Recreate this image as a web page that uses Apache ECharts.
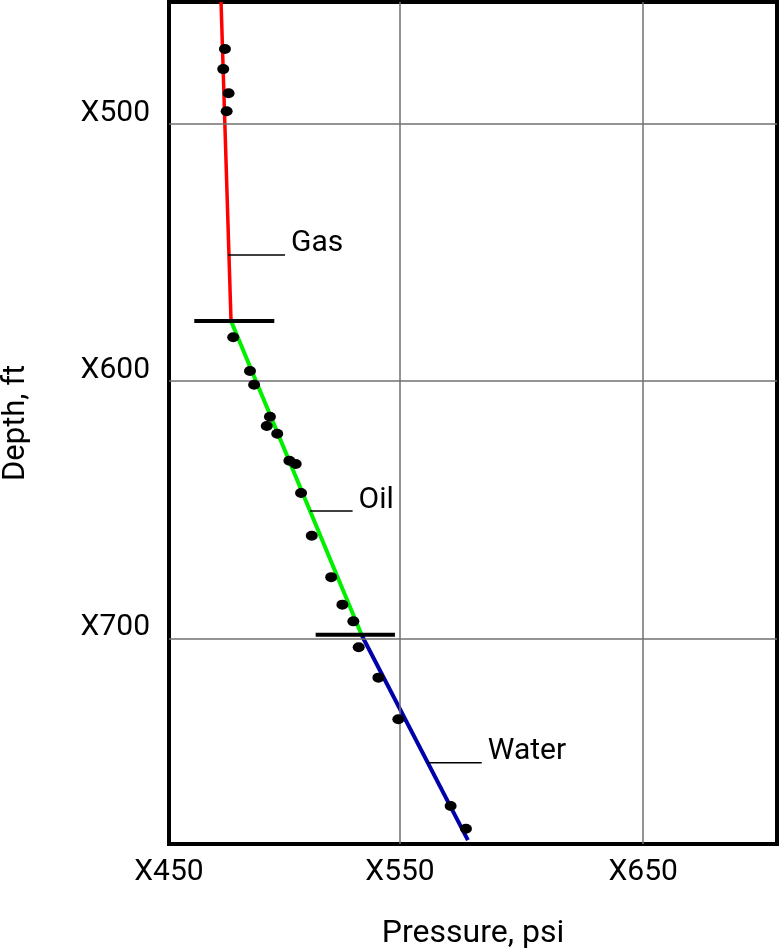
<!DOCTYPE html>
<html>
<head>
<meta charset="utf-8">
<script src="https://cdn.jsdelivr.net/npm/echarts@6/dist/echarts.min.js"></script>
<style>
  html, body { margin: 0; padding: 0; background: #fff; }
  #chart { width: 780px; height: 952px; }
</style>
</head>
<body>
<div id="chart"></div>
<script>
// ---- axis ticks ----
const xTickValues = [455, 550, 650];
const xTickLabels = ['X450', 'X550', 'X650'];
const yTickValues = [500, 600, 700];
const yTickLabels = ['X500', 'X600', 'X700'];

// ---- pressure measurements (psi, depth ft) ----
const gasPressure   = [478.0, 477.3, 479.5, 478.7];
const gasDepth      = [470.8, 478.6, 488.0, 495.0];
const oilPressure   = [481.4, 488.3, 490.0, 496.5, 495.2, 499.5, 504.5, 507.1, 509.3, 513.7, 521.7, 526.3, 530.8];
const oilDepth      = [582.9, 596.0, 601.4, 613.8, 617.4, 620.4, 630.9, 632.2, 643.5, 660.1, 676.2, 686.9, 693.4];
const waterPressure = [533.0, 541.1, 549.3, 570.8, 577.1];
const waterDepth    = [703.5, 715.3, 731.5, 765.2, 774.1];

// ---- fluid gradient lines (pressure, depth endpoints) ----
const gasLinePressure   = [476.4, 480.5];
const gasLineDepth      = [452.5, 576.6];
const oilLinePressure   = [480.5, 534.4];
const oilLineDepth      = [576.6, 699.1];
const waterLinePressure = [534.4, 577.9];
const waterLineDepth    = [699.1, 778.5];

// ---- fluid contacts ----
const contactDepth    = [576.6, 698.6];
const contactPressure = [[465.4, 498.3], [515.3, 547.9]];

// ---- fluid labels with leaders ----
const fluidNames          = ['Gas', 'Oil', 'Water'];
const leaderDepth         = [550.9, 650.5, 748.4];
const leaderPressureStart = [479.3, 513.0, 561.6];
const leaderPressureEnd   = [502.7, 530.5, 583.6];

const zip = (a, b) => a.map((v, i) => [v, b[i]]);

const FONT = 'Roboto';
const series = [];

// grid lines (from tick arrays)
series.push({
  type: 'line', data: [], silent: true, z: 1,
  markLine: {
    silent: true, symbol: 'none', animation: false,
    label: { show: false },
    lineStyle: { color: '#707070', width: 1.5, type: 'solid', opacity: 1 },
    data: xTickValues.slice(1).map(v => ({ xAxis: v }))
      .concat(yTickValues.map(v => ({ yAxis: v })))
  }
});

const lineStyleSeries = (px, dy, color, width) => ({
  type: 'line', data: zip(px, dy), symbol: 'none', z: 3,
  lineStyle: { color: color, width: width, opacity: 1 }, silent: true, animation: false
});
series.push(lineStyleSeries(gasLinePressure, gasLineDepth, '#ff0000', 3.5));
series.push(lineStyleSeries(oilLinePressure, oilLineDepth, '#00f000', 4));
series.push(lineStyleSeries(waterLinePressure, waterLineDepth, '#0000aa', 4));

contactDepth.forEach((d, i) => {
  series.push({
    type: 'line', symbol: 'none', z: 4, silent: true, animation: false,
    data: contactPressure[i].map(p => [p, d]),
    lineStyle: { color: '#000', width: 4, opacity: 1 }
  });
});

fluidNames.forEach((n, i) => {
  series.push({
    type: 'line', symbol: 'none', z: 4, silent: true, animation: false,
    data: [[leaderPressureStart[i], leaderDepth[i]], [leaderPressureEnd[i], leaderDepth[i]]],
    lineStyle: { color: '#000', width: 1.5, opacity: 1 }
  });
});

series.push({
  type: 'scatter', symbolSize: 0, z: 5, silent: true, animation: false,
  itemStyle: { opacity: 1 },
  data: fluidNames.map((n, i) => ({ value: [leaderPressureEnd[i], leaderDepth[i]], name: n })),
  label: {
    show: true, position: 'right', distance: 6, offset: [0, -11],
    formatter: p => p.name, opacity: 1,
    color: '#000', fontFamily: FONT, fontSize: 30
  }
});

series.push({
  type: 'scatter', z: 6, silent: true, animation: false,
  symbol: 'circle', symbolSize: [12, 10],
  itemStyle: { color: '#000', opacity: 1 },
  data: zip(gasPressure, gasDepth).concat(zip(oilPressure, oilDepth), zip(waterPressure, waterDepth))
});

const chart = echarts.init(document.getElementById('chart'));
chart.setOption({
  animation: false,
  backgroundColor: '#fff',
  grid: {
    left: 169, top: 2, width: 608, height: 842,
    outerBoundsMode: 'none', containLabel: false,
    show: true, borderColor: '#000', borderWidth: 4, backgroundColor: 'transparent'
  },
  xAxis: {
    type: 'value', min: 455, max: 705,
    name: 'Pressure, psi', nameLocation: 'middle', nameGap: 74,
    nameTextStyle: { fontFamily: FONT, fontSize: 32, color: '#000' },
    axisLine: { show: false }, axisTick: { show: false, customValues: xTickValues },
    splitLine: { show: false },
    axisLabel: {
      customValues: xTickValues, showMinLabel: true, showMaxLabel: true,
      margin: 13, fontFamily: FONT, fontSize: 30, color: '#000',
      formatter: v => xTickLabels[xTickValues.indexOf(v)]
    }
  },
  yAxis: {
    type: 'value', inverse: true, min: 452.5, max: 780,
    name: 'Depth, ft', nameLocation: 'middle', nameGap: 137, nameRotate: 90,
    nameTextStyle: { fontFamily: FONT, fontSize: 31, color: '#000' },
    axisLine: { show: false }, axisTick: { show: false, customValues: yTickValues },
    splitLine: { show: false },
    axisLabel: {
      customValues: yTickValues,
      margin: 19, fontFamily: FONT, fontSize: 30, color: '#000',
      verticalAlign: 'bottom', lineHeight: 22,
      formatter: v => yTickLabels[yTickValues.indexOf(v)]
    }
  },
  series: series
});
</script>
</body>
</html>
